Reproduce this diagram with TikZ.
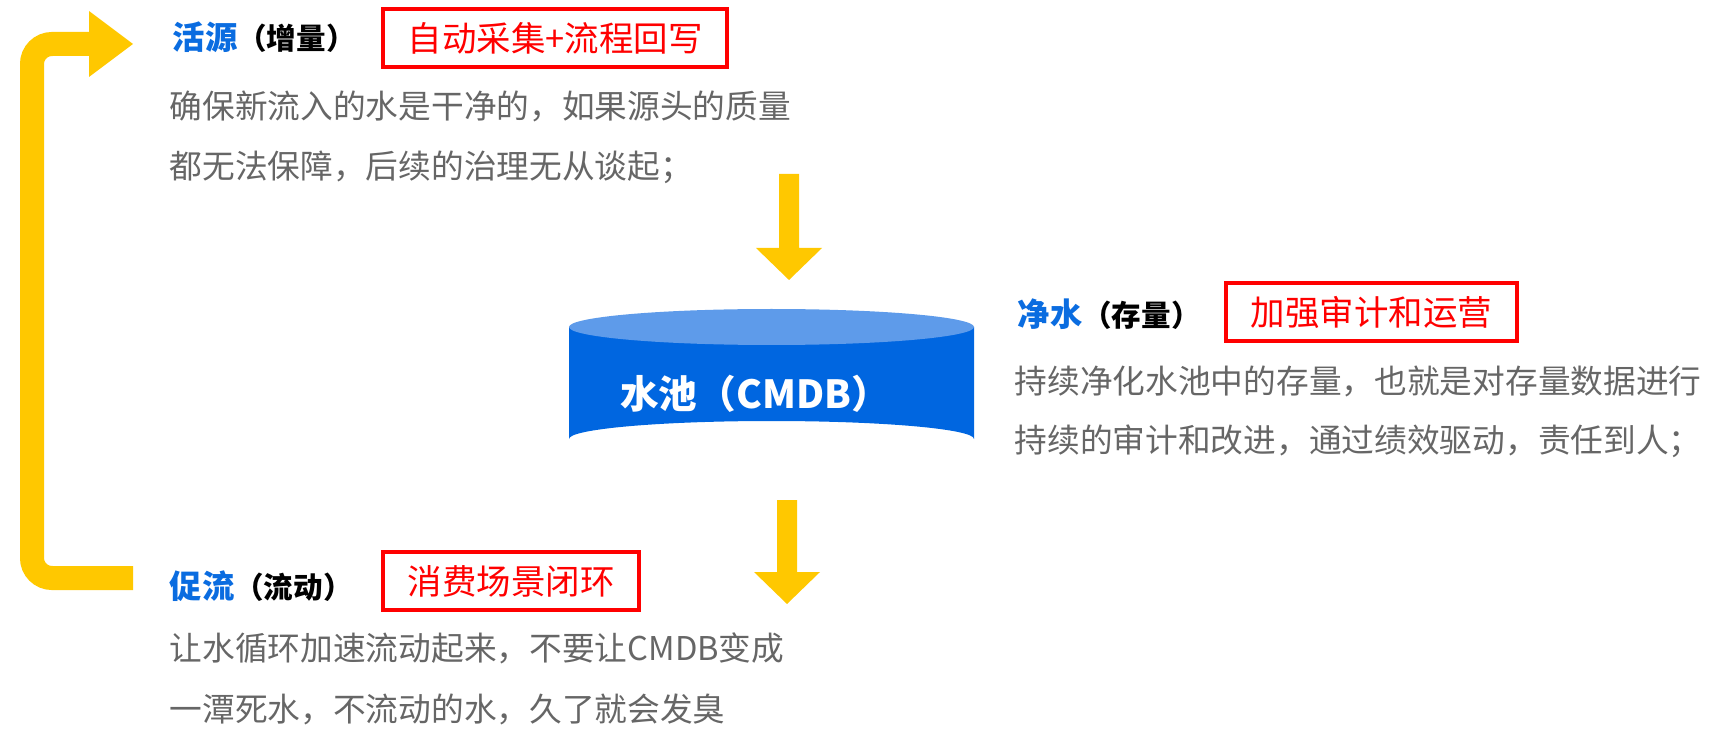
\documentclass[tikz,border=0pt]{standalone}
\usepackage{fontspec}
\setmainfont{Noto Sans CJK SC}
\usetikzlibrary{shapes.geometric}
\definecolor{ylw}{HTML}{FFC800}
\definecolor{ttl}{HTML}{0A6CE0}
\definecolor{cyl}{HTML}{0066E0}
\definecolor{cyltop}{HTML}{5E9BEA}
\definecolor{gtxt}{HTML}{666666}
\begin{document}
\begin{tikzpicture}[x=0.01cm,y=-0.01cm,
 ttl/.style={anchor=west,inner sep=0,font=\fontsize{9.2}{10}\selectfont\bfseries,text=ttl},
 tag/.style={draw=red,line width=1.2pt,text=red,font=\fontsize{9.8}{12}\selectfont,anchor=west,minimum height=58*0.01cm,inner xsep=7pt},
 body/.style={anchor=west,inner sep=0,text=gtxt,font=\fontsize{9.3}{10}\selectfont},
 arr/.style={fill=ylw}]
\useasboundingbox (0,0) rectangle (1734,749);
% left bracket
\draw[ylw,line width=24*0.01cm,rounded corners=20*0.01cm] (95,44) -- (32,44) -- (32,578) -- (133,578);
\fill[ylw] (89,11) -- (133,44) -- (89,77) -- cycle;
% title 1
\node[ttl] (t1) at (172,37) {活源\textcolor{black}{\fontsize{8.4}{9}\selectfont（增量）}};
\node[tag] (g1) at (381,38) {自动采集+流程回写};
\node[body] (b1) at (169,106) {确保新流入的水是干净的，如果源头的质量};
\node[body] (b1b) at (169,167) {都无法保障，后续的治理无从谈起；};
% arrows down
\fill[ylw] (779,174) rectangle (799,248) (756,248) -- (822,248) -- (789,280) -- cycle;
\fill[ylw] (777,500) rectangle (797,572) (754,572) -- (820,572) -- (787,604) -- cycle;
% cylinder
\fill[cyl] (569,327) -- (569,439) arc[start angle=180,end angle=360,x radius=202.5,y radius=18] -- (974,327) -- cycle;
\fill[cyltop] (771.5,327) ellipse[x radius=202.5,y radius=18];
\node[inner sep=0,text=white,font=\fontsize{11}{13}\selectfont\bfseries] (pool) at (755,394) {水池（CMDB）};
% title 2
\node[ttl] (t2) at (1017,314) {净水\textcolor{black}{\fontsize{8.4}{9}\selectfont（存量）}};
\node[tag] (g2) at (1224,312) {加强审计和运营};
\node[body] (b2) at (1014,381) {持续净化水池中的存量，也就是对存量数据进行};
\node[body] (b2b) at (1014,441) {持续的审计和改进，通过绩效驱动，责任到人；};
% title 3
\node[ttl] (t3) at (169,586) {促流\textcolor{black}{\fontsize{8.4}{9}\selectfont（流动）}};
\node[tag] (g3) at (381,581) {消费场景闭环};
\node[body] (b3) at (169,648) {让水循环加速流动起来，不要让CMDB变成};
\node[body] (b3b) at (169,709) {一潭死水，不流动的水，久了就会发臭};
\end{tikzpicture}
\end{document}
